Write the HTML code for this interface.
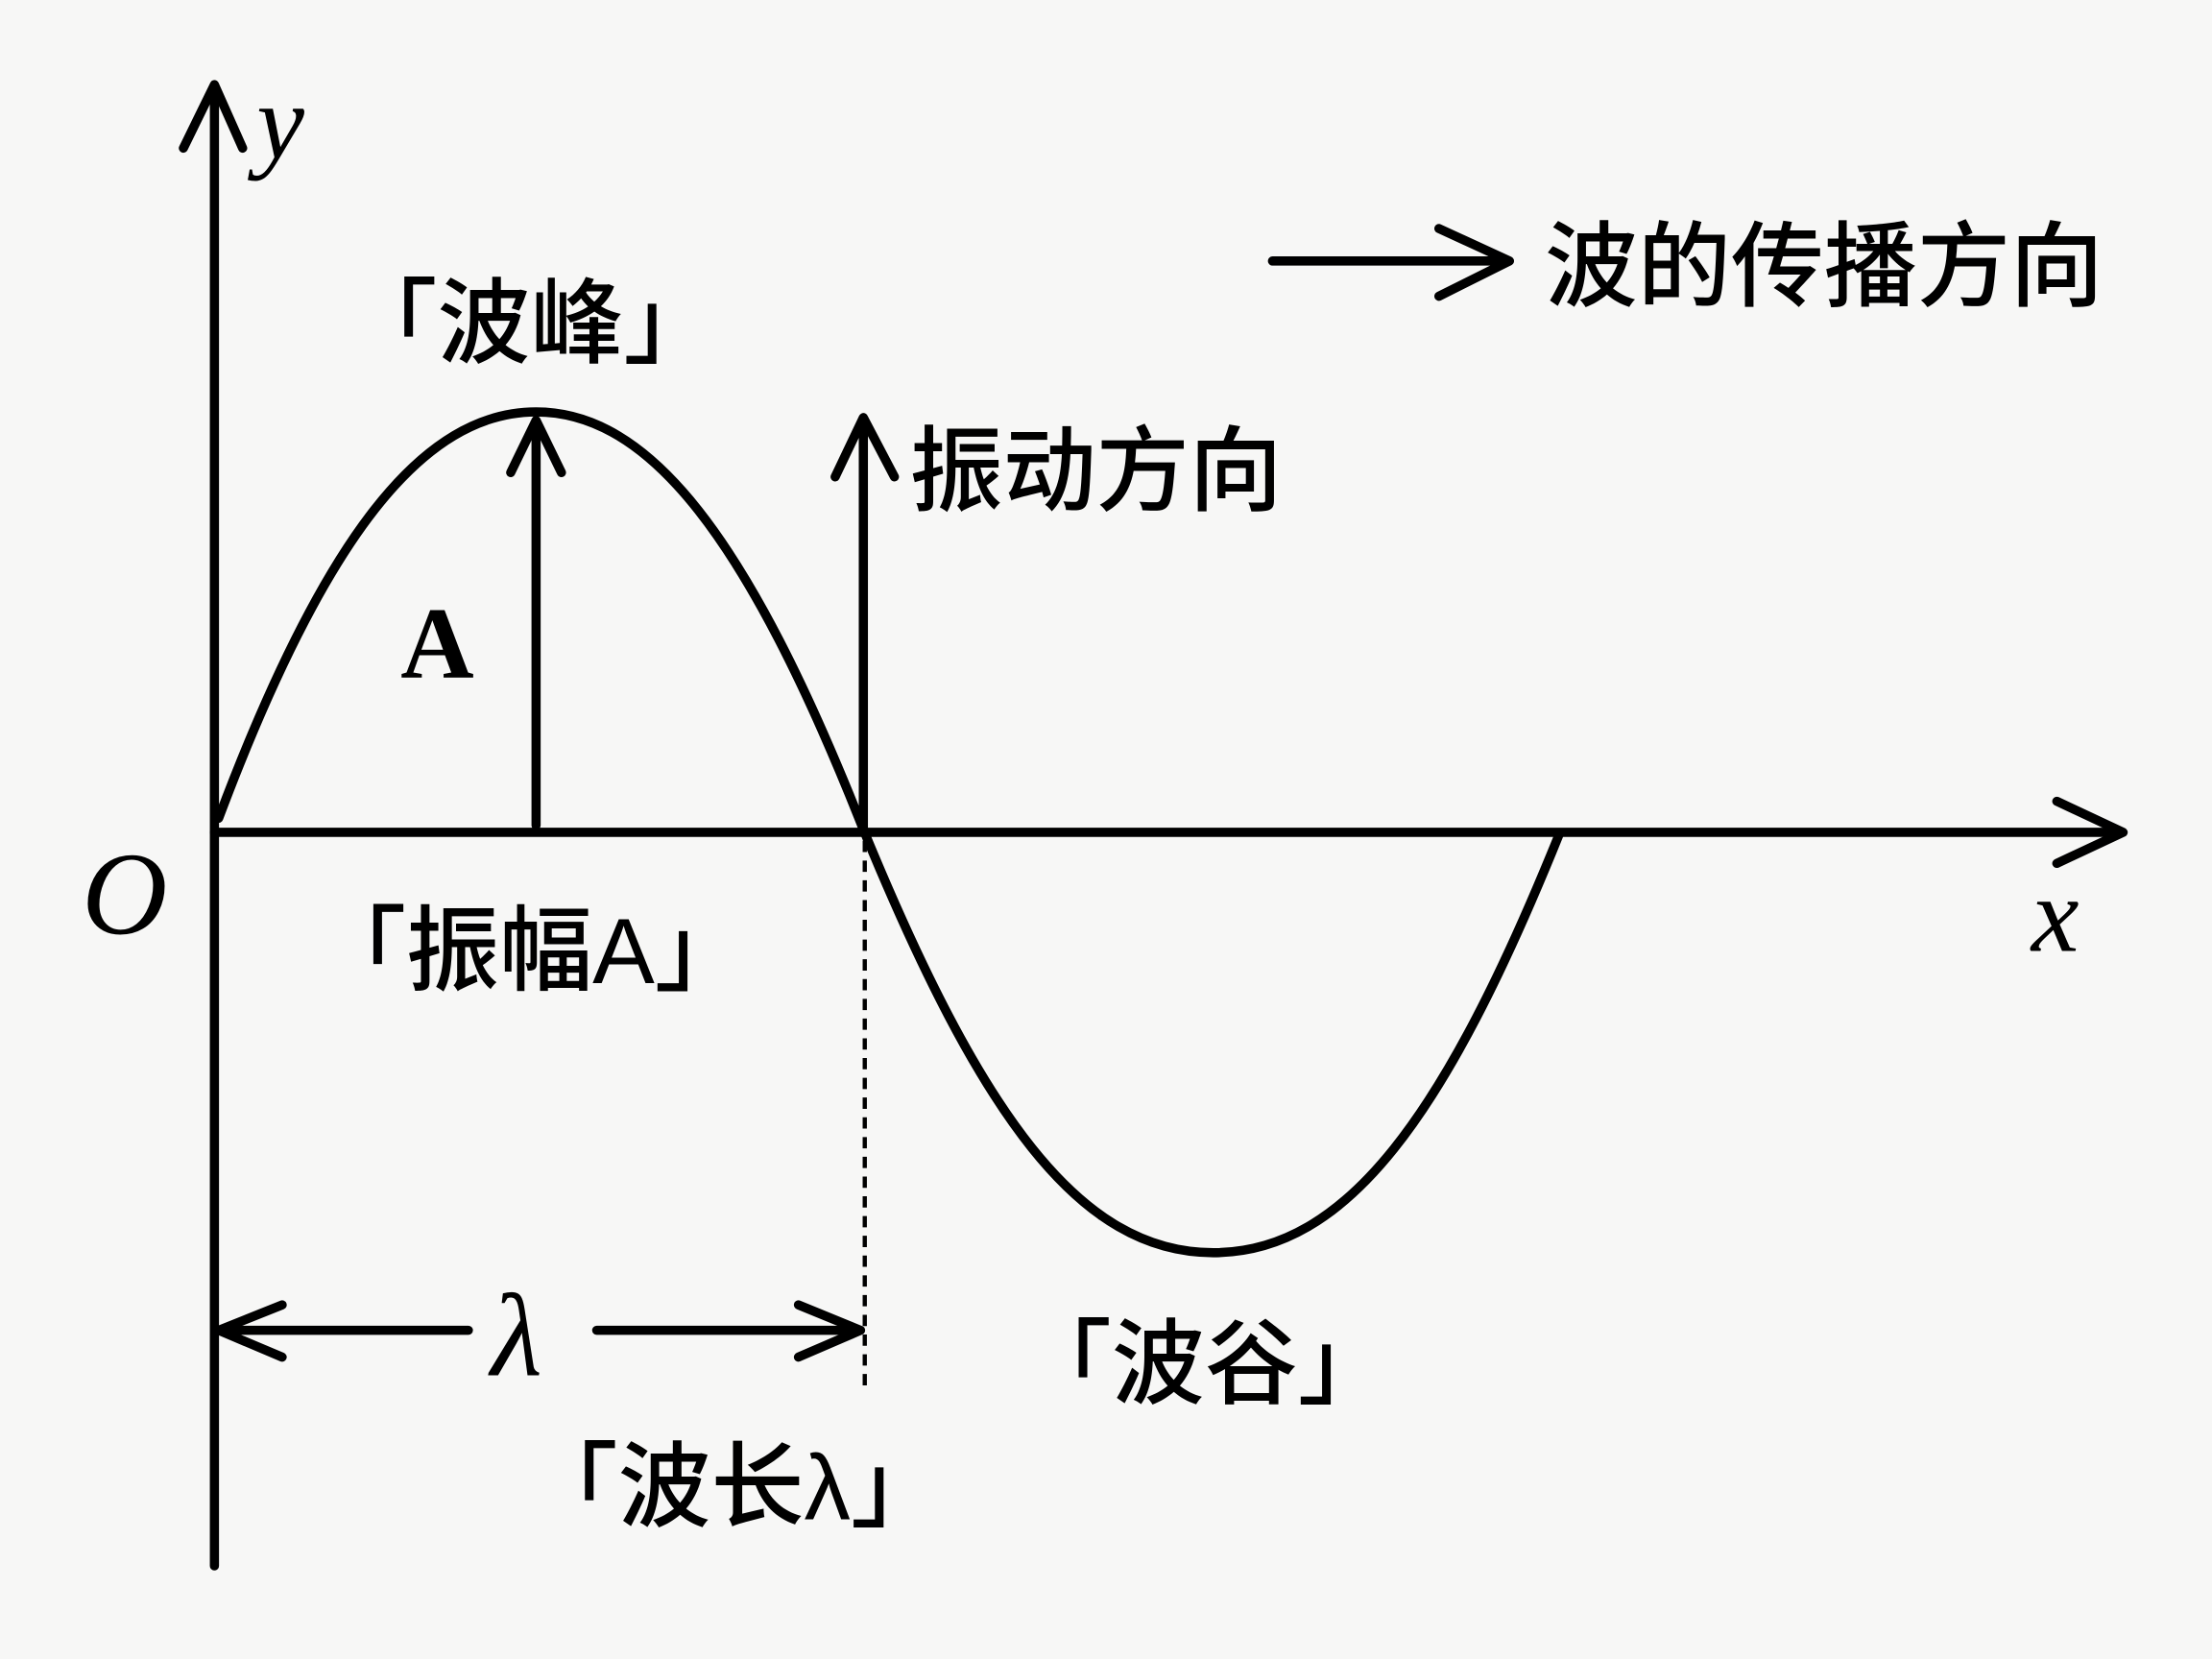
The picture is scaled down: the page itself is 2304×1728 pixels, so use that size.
<!DOCTYPE html>
<html><head><meta charset="utf-8"><style>html,body{margin:0;padding:0;background:#f7f7f6;}svg{display:block}</style></head>
<body>
<svg width="2304" height="1728" viewBox="0 0 1568 1176" xmlns="http://www.w3.org/2000/svg">
<rect width="1568" height="1176" fill="#f7f7f6"/>
<g stroke="#000" stroke-width="6.5" fill="none" stroke-linecap="round" stroke-linejoin="round">
<line x1="152" y1="1110" x2="152" y2="62"/>
<polyline points="130,105 152,60 172,105"/>
<line x1="152" y1="590" x2="1503" y2="590"/>
<polyline points="1458,568 1505,590 1458,612"/>
<path d="M155,580 C230,380 300,292 380,292 C460,292 530,380 612,588 C695,790 765,888 860,888 C955,888 1025,790 1105,592"/>
<line x1="380" y1="585" x2="380" y2="300"/>
<polyline points="362,335 380,298 398,335"/>
<line x1="612" y1="590" x2="612" y2="298"/>
<polyline points="592,338 612,296 634,338"/>
<line x1="902" y1="185" x2="1068" y2="185"/>
<polyline points="1020,162 1070,185 1020,210"/>
<line x1="155" y1="943" x2="332" y2="943"/>
<polyline points="200,925 155,943 200,962"/>
<line x1="423" y1="943" x2="608" y2="943"/>
<polyline points="566,925 610,943 566,962"/>
</g>
<line x1="613" y1="596" x2="613" y2="988" stroke="#000" stroke-width="3" stroke-dasharray="8,6"/>
<g font-family="Liberation Serif, serif" font-style="italic" fill="#000">
<text x="182" y="112" font-size="76">y</text>
<text x="1440" y="674" font-size="76">x</text>
<text x="58" y="662" font-size="84">O</text>
<text x="348" y="975" font-size="84">λ</text>
</g>
<text x="284" y="480" font-family="Liberation Serif, serif" font-weight="bold" font-size="72" fill="#000">A</text>
<g font-family="Liberation Sans, 'Noto Sans CJK SC', sans-serif" fill="#000" font-size="66" font-weight="500">
<text x="244" y="252">「波峰」</text>
<text x="222" y="697">「振幅A」</text>
<text x="645" y="357">振动方向</text>
<text x="1095" y="212">波的传播方向</text>
<text x="722" y="990">「波谷」</text>
<text x="372" y="1077">「波长λ」</text>
</g>
</svg>
</body></html>
